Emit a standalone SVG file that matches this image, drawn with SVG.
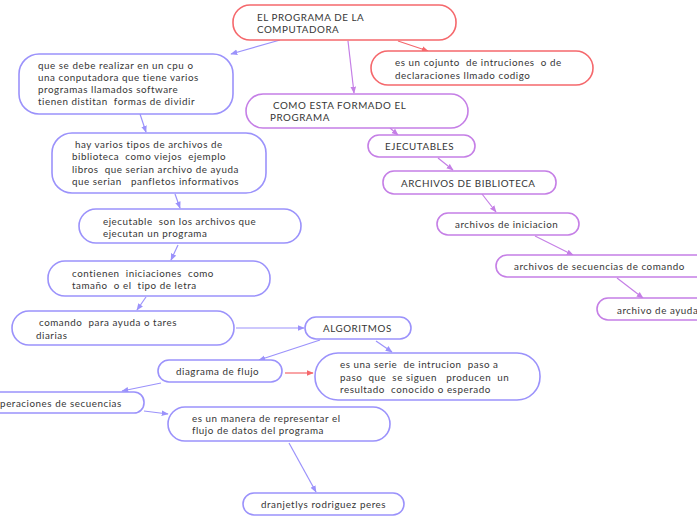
<svg xmlns="http://www.w3.org/2000/svg" width="697" height="520" viewBox="0 0 697 520">
<defs>
<style>
.n rect{fill:#fff;stroke-width:1.6}
.r rect{stroke:#f5686c}
.b rect{stroke:#9b92fb}
.p rect{stroke:#c57fe6}
text{font-family:"Lato","Noto Sans",sans-serif;font-size:9.8px;letter-spacing:0.55px;fill:#363636;white-space:pre}
.c line{stroke-width:1.2;fill:none}
.cb line{stroke:#9b92fb}
.cr line{stroke:#f5686c}
.cp line{stroke:#c57fe6}
</style>
<marker id="ab" viewBox="0 0 10 10" refX="9" refY="5" markerWidth="7" markerHeight="7" orient="auto" markerUnits="userSpaceOnUse"><path d="M0,1 L10,5 L0,9 z" fill="#9b92fb"/></marker>
<marker id="ar" viewBox="0 0 10 10" refX="9" refY="5" markerWidth="7" markerHeight="7" orient="auto" markerUnits="userSpaceOnUse"><path d="M0,1 L10,5 L0,9 z" fill="#f5686c"/></marker>
<marker id="ap" viewBox="0 0 10 10" refX="9" refY="5" markerWidth="7" markerHeight="7" orient="auto" markerUnits="userSpaceOnUse"><path d="M0,1 L10,5 L0,9 z" fill="#c57fe6"/></marker>
</defs>
<rect width="697" height="520" fill="#fff"/>
<g id="connectors" class="c">
<g class="cb">
<line x1="280" y1="40" x2="231" y2="54" marker-end="url(#ab)"/>
<line x1="140" y1="114" x2="146" y2="132" marker-end="url(#ab)"/>
<line x1="175" y1="194" x2="180" y2="208" marker-end="url(#ab)"/>
<line x1="178" y1="245" x2="171" y2="260" marker-end="url(#ab)"/>
<line x1="146" y1="297" x2="137" y2="310" marker-end="url(#ab)"/>
<line x1="236" y1="328" x2="304" y2="328" marker-end="url(#ab)"/>
<line x1="320" y1="340" x2="259" y2="360" marker-end="url(#ab)"/>
<line x1="376" y1="341" x2="392" y2="352" marker-end="url(#ab)"/>
<line x1="161" y1="383" x2="122" y2="391" marker-end="url(#ab)"/>
<line x1="144" y1="411" x2="168" y2="414" marker-end="url(#ab)"/>
<line x1="289" y1="443" x2="316" y2="492" marker-end="url(#ab)"/>
</g>
<g class="cr">
<line x1="398" y1="41" x2="428" y2="51" marker-end="url(#ar)"/>
<line x1="285" y1="373" x2="313" y2="373" marker-end="url(#ar)"/>
</g>
<g class="cp">
<line x1="348" y1="41" x2="354" y2="93" marker-end="url(#ap)"/>
<line x1="390" y1="128" x2="398" y2="135" marker-end="url(#ap)"/>
<line x1="438" y1="158" x2="453" y2="170" marker-end="url(#ap)"/>
<line x1="482" y1="194" x2="496" y2="212" marker-end="url(#ap)"/>
<line x1="535" y1="236" x2="573" y2="255" marker-end="url(#ap)"/>
<line x1="617" y1="278" x2="643" y2="298" marker-end="url(#ap)"/>
</g>
</g>
<g id="n1" class="n r"><rect x="233" y="5" width="223" height="35" rx="17"/><text><tspan x="257" y="21">EL PROGRAMA DE LA</tspan><tspan x="257" y="33">COMPUTADORA</tspan></text></g>
<g id="n2" class="n b"><rect x="19" y="54" width="214" height="60" rx="20"/><text><tspan x="38" y="69">que se debe realizar en un cpu o</tspan><tspan x="38" y="81">una conputadora que tiene varios</tspan><tspan x="38" y="93">programas llamados software</tspan><tspan x="38" y="105">tienen distitan  formas de dividir</tspan></text></g>
<g id="n3" class="n r"><rect x="371" y="51" width="222" height="34" rx="17"/><text><tspan x="395" y="66">es un cojunto  de intruciones  o de</tspan><tspan x="395" y="79">declaraciones llmado codigo</tspan></text></g>
<g id="n4" class="n p"><rect x="246" y="94" width="222" height="34" rx="17"/><text><tspan x="273" y="109">COMO ESTA FORMADO EL</tspan><tspan x="270" y="121">PROGRAMA</tspan></text></g>
<g id="n5" class="n p"><rect x="368" y="135" width="107" height="22" rx="11"/><text x="385" y="150">EJECUTABLES</text></g>
<g id="n6" class="n p"><rect x="383" y="171" width="173" height="23" rx="11"/><text x="401" y="187">ARCHIVOS DE BIBLIOTECA</text></g>
<g id="n7" class="n p"><rect x="437" y="213" width="142" height="22" rx="11"/><text x="455" y="228">archivos de iniciacion</text></g>
<g id="n8" class="n p"><rect x="496" y="255" width="212" height="22" rx="11"/><text x="514" y="270">archivos de secuencias de comando</text></g>
<g id="n9" class="n p"><rect x="597" y="298" width="112" height="22" rx="11"/><text x="617" y="314">archivo de ayuda</text></g>
<g id="n10" class="n b"><rect x="52" y="133" width="214" height="60" rx="20"/><text><tspan x="75" y="148">hay varios tipos de archivos de</tspan><tspan x="72" y="160">biblioteca  como viejos  ejemplo</tspan><tspan x="72" y="172.5">libros  que serian archivo de ayuda</tspan><tspan x="72" y="185">que serian   panfletos informativos</tspan></text></g>
<g id="n11" class="n b"><rect x="79" y="209" width="222" height="34" rx="17"/><text><tspan x="103" y="225">ejecutable  son los archivos que</tspan><tspan x="103" y="237">ejecutan un programa</tspan></text></g>
<g id="n12" class="n b"><rect x="48" y="261" width="222" height="35" rx="17"/><text><tspan x="72" y="277">contienen  iniciaciones  como</tspan><tspan x="72" y="289">tamaño  o el  tipo de letra</tspan></text></g>
<g id="n13" class="n b"><rect x="12" y="311" width="222" height="34" rx="17"/><text><tspan x="39" y="326">comando  para ayuda o tares</tspan><tspan x="36" y="339">diarias</tspan></text></g>
<g id="n14" class="n b"><rect x="305" y="317" width="106" height="22" rx="11"/><text x="323" y="332">ALGORITMOS</text></g>
<g id="n15" class="n b"><rect x="158" y="360" width="124" height="22" rx="11"/><text x="176" y="375">diagrama de flujo</text></g>
<g id="n16" class="n b"><rect x="315" y="353" width="225" height="47" rx="23"/><text><tspan x="340" y="368">es una serie  de intrucion  paso a</tspan><tspan x="340" y="380.5">paso  que  se siguen   producen  un</tspan><tspan x="340" y="393">resultado  conocido o esperado</tspan></text></g>
<g id="n17" class="n b"><rect x="-20" y="392" width="164" height="21" rx="10"/><text x="-6" y="407">operaciones de secuencias</text></g>
<g id="n18" class="n b"><rect x="168" y="407" width="222" height="34" rx="17"/><text><tspan x="192" y="422">es un manera de representar el</tspan><tspan x="192" y="434">flujo de datos del programa</tspan></text></g>
<g id="n19" class="n b"><rect x="243" y="493" width="161" height="22" rx="11"/><text x="261" y="508">dranjetlys rodriguez peres</text></g>
</svg>
